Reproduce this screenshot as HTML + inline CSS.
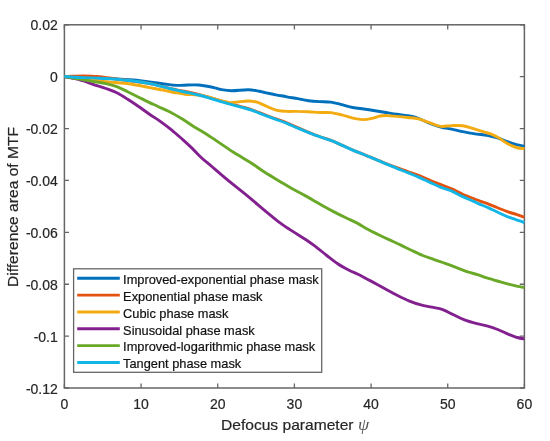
<!DOCTYPE html>
<html><head><meta charset="utf-8"><style>html,body{margin:0;padding:0;background:#fff;width:550px;height:441px;overflow:hidden}svg{display:block}</style></head>
<body><svg width="550" height="441" viewBox="0 0 550 441"><rect x="64.4" y="24.8" width="460.0" height="363.2" fill="#fff" stroke="none"/>
<path d="M64.40,388.0 v-4.6 M64.40,24.8 v4.6 M141.07,388.0 v-4.6 M141.07,24.8 v4.6 M217.73,388.0 v-4.6 M217.73,24.8 v4.6 M294.40,388.0 v-4.6 M294.40,24.8 v4.6 M371.07,388.0 v-4.6 M371.07,24.8 v4.6 M447.73,388.0 v-4.6 M447.73,24.8 v4.6 M524.40,388.0 v-4.6 M524.40,24.8 v4.6 M64.4,24.80 h4.6 M524.4,24.80 h-4.6 M64.4,76.69 h4.6 M524.4,76.69 h-4.6 M64.4,128.57 h4.6 M524.4,128.57 h-4.6 M64.4,180.46 h4.6 M524.4,180.46 h-4.6 M64.4,232.34 h4.6 M524.4,232.34 h-4.6 M64.4,284.23 h4.6 M524.4,284.23 h-4.6 M64.4,336.11 h4.6 M524.4,336.11 h-4.6 M64.4,388.00 h4.6 M524.4,388.00 h-4.6" stroke="#666666" stroke-width="1.3" fill="none"/>
<rect x="64.4" y="24.8" width="460.0" height="363.2" fill="none" stroke="#666666" stroke-width="1.5"/>
<g fill="none" stroke-width="2.9" stroke-linejoin="round" stroke-linecap="butt">
<path d="M64.4,76.5 C67.0,76.7 74.1,77.1 80.0,77.4 C85.9,77.7 94.2,77.9 100.0,78.1 C105.8,78.3 110.0,78.5 115.0,78.8 C120.0,79.1 125.2,79.4 130.0,79.8 C134.8,80.2 139.4,80.7 143.6,81.2 C147.8,81.7 151.3,82.1 155.0,82.6 C158.7,83.1 162.3,83.7 165.9,84.2 C169.5,84.7 173.2,85.3 176.8,85.4 C180.4,85.5 184.1,85.1 187.7,85.0 C191.3,84.9 195.3,84.8 198.6,85.0 C201.9,85.2 204.6,85.7 207.3,86.2 C210.0,86.7 212.7,87.3 215.0,87.9 C217.3,88.4 218.1,89.0 220.9,89.5 C223.7,90.0 227.2,90.7 231.8,90.7 C236.4,90.7 243.6,89.6 248.2,89.7 C252.8,89.8 256.3,90.7 259.1,91.2 C261.9,91.7 262.2,92.0 265.0,92.6 C267.8,93.2 272.3,94.1 275.9,94.8 C279.5,95.5 283.2,96.1 286.8,96.8 C290.4,97.5 294.1,98.0 297.7,98.7 C301.3,99.4 305.0,100.2 308.6,100.7 C312.2,101.2 315.8,101.4 319.5,101.6 C323.2,101.8 327.2,101.6 330.9,102.1 C334.6,102.6 338.2,103.7 341.8,104.6 C345.4,105.5 349.1,106.8 352.7,107.5 C356.3,108.2 359.9,108.5 363.6,109.0 C367.3,109.5 371.3,110.1 375.0,110.7 C378.7,111.3 382.3,111.9 385.9,112.5 C389.5,113.1 393.2,113.8 396.8,114.3 C400.4,114.8 404.4,115.2 407.7,115.7 C411.0,116.2 413.0,116.3 416.4,117.5 C419.8,118.7 423.9,121.0 428.0,122.6 C432.1,124.2 436.9,126.0 440.9,127.1 C444.9,128.2 448.2,128.4 451.8,129.2 C455.4,130.0 459.1,131.0 462.7,131.7 C466.3,132.4 470.0,133.1 473.6,133.6 C477.2,134.2 481.6,134.6 484.5,135.0 C487.4,135.4 488.7,135.8 491.0,136.3 C493.3,136.8 495.5,137.2 498.2,138.1 C500.9,139.0 504.3,140.5 507.3,141.6 C510.3,142.7 513.5,143.9 516.4,144.7 C519.2,145.5 523.1,146.1 524.4,146.4" stroke="#0070bd"/>
<path d="M64.4,76.5 C65.7,76.5 68.8,76.3 72.0,76.2 C75.2,76.1 80.0,75.9 83.8,75.9 C87.6,75.9 92.0,76.2 95.0,76.4 C98.0,76.6 97.5,76.4 102.0,77.0 C106.5,77.6 114.9,78.9 121.8,79.8 C128.7,80.7 138.1,81.7 143.6,82.5 C149.1,83.3 151.3,83.9 155.0,84.7 C158.7,85.5 162.3,86.5 165.9,87.4 C169.5,88.3 173.2,89.1 176.8,89.9 C180.4,90.6 184.1,91.2 187.7,91.9 C191.3,92.6 195.0,93.4 198.6,94.3 C202.2,95.2 205.8,96.2 209.5,97.3 C213.2,98.4 217.2,99.9 220.9,101.0 C224.6,102.1 228.2,103.1 231.8,104.1 C235.4,105.1 239.4,106.2 242.7,107.1 C246.0,108.0 247.7,108.3 251.4,109.6 C255.1,110.9 260.9,113.3 265.0,114.9 C269.1,116.4 272.3,117.6 275.9,118.9 C279.5,120.2 283.2,121.3 286.8,122.8 C290.4,124.3 294.1,126.1 297.7,127.7 C301.3,129.3 305.0,130.8 308.6,132.3 C312.2,133.8 315.8,135.2 319.5,136.5 C323.2,137.8 327.2,138.9 330.9,140.3 C334.6,141.7 338.2,143.5 341.8,145.1 C345.4,146.7 349.1,148.4 352.7,150.0 C356.3,151.6 360.0,152.9 363.6,154.4 C367.2,155.9 370.8,157.3 374.5,158.8 C378.2,160.3 382.2,162.1 385.9,163.6 C389.6,165.1 393.2,166.4 396.8,167.7 C400.4,169.0 404.1,170.2 407.7,171.5 C411.3,172.8 415.0,173.9 418.6,175.3 C422.2,176.7 425.8,178.6 429.5,180.1 C433.2,181.7 437.2,183.1 440.9,184.6 C444.6,186.1 448.2,187.3 451.8,188.9 C455.4,190.5 459.1,192.7 462.7,194.3 C466.3,195.9 470.7,197.5 473.6,198.6 C476.5,199.7 477.4,200.1 480.0,201.1 C482.6,202.1 486.1,203.2 489.1,204.4 C492.1,205.6 495.2,206.8 498.2,208.0 C501.2,209.2 504.3,210.5 507.3,211.6 C510.3,212.7 513.5,213.5 516.4,214.4 C519.2,215.3 523.1,216.7 524.4,217.1" stroke="#e4520f"/>
<path d="M64.4,76.5 C66.2,76.7 70.7,77.4 75.0,77.9 C79.3,78.4 85.8,79.2 90.0,79.7 C94.2,80.2 96.7,80.7 100.0,81.1 C103.3,81.5 105.9,81.7 110.0,82.1 C114.1,82.5 119.7,82.7 124.5,83.3 C129.3,83.9 134.8,84.8 139.1,85.5 C143.3,86.2 145.8,86.9 150.0,87.7 C154.2,88.5 160.0,89.5 164.5,90.4 C169.0,91.3 173.4,92.3 176.8,92.9 C180.2,93.5 182.5,93.9 185.0,94.2 C187.5,94.5 189.6,94.4 192.0,94.6 C194.4,94.8 197.0,94.8 199.5,95.2 C202.0,95.6 204.6,96.1 207.0,96.7 C209.4,97.3 211.6,98.0 214.1,98.7 C216.6,99.4 219.3,100.2 222.0,100.9 C224.7,101.5 227.3,102.4 230.0,102.6 C232.7,102.8 235.0,102.2 238.0,101.9 C241.0,101.6 245.0,101.0 248.2,101.0 C251.3,101.0 254.2,101.5 256.9,102.2 C259.6,102.9 262.3,104.4 264.5,105.3 C266.7,106.2 267.9,107.0 270.0,107.8 C272.1,108.6 274.2,109.7 277.0,110.3 C279.8,110.9 283.4,111.2 286.8,111.4 C290.2,111.6 294.1,111.3 297.7,111.4 C301.3,111.4 305.0,111.5 308.6,111.7 C312.2,111.9 315.8,112.3 319.5,112.5 C323.2,112.7 327.2,112.2 330.9,112.6 C334.6,113.0 338.2,114.0 341.8,114.9 C345.4,115.8 349.2,117.4 352.7,118.2 C356.2,119.0 359.7,119.6 363.0,119.6 C366.3,119.6 369.5,118.9 372.3,118.3 C375.1,117.7 377.6,116.5 380.0,116.0 C382.4,115.5 384.2,115.5 387.0,115.6 C389.8,115.7 393.4,116.1 396.8,116.4 C400.2,116.7 404.1,117.1 407.7,117.5 C411.3,117.9 415.0,118.0 418.6,118.9 C422.2,119.8 425.8,121.5 429.5,122.7 C433.2,124.0 437.2,125.9 440.9,126.4 C444.6,126.9 448.2,125.7 451.8,125.6 C455.4,125.5 459.1,125.2 462.7,125.7 C466.3,126.2 470.0,127.6 473.6,128.7 C477.2,129.8 481.8,131.3 484.5,132.1 C487.2,132.9 487.7,132.8 490.0,133.7 C492.3,134.6 495.3,136.0 498.2,137.6 C501.1,139.2 504.3,141.8 507.3,143.5 C510.3,145.2 513.5,146.6 516.4,147.5 C519.2,148.4 523.1,148.5 524.4,148.7" stroke="#f3ab12"/>
<path d="M64.4,76.5 C66.2,76.9 71.4,77.8 75.0,78.7 C78.6,79.6 82.5,80.6 85.8,81.7 C89.1,82.8 91.7,84.0 95.0,85.1 C98.3,86.2 102.3,87.2 105.9,88.5 C109.5,89.8 113.2,91.0 116.8,92.8 C120.4,94.6 124.1,97.0 127.7,99.3 C131.3,101.6 135.0,104.0 138.6,106.5 C142.2,109.0 145.8,111.7 149.5,114.2 C153.2,116.8 157.2,119.1 160.9,121.8 C164.6,124.5 168.2,127.1 171.8,130.1 C175.4,133.1 179.3,136.6 182.7,139.6 C186.1,142.6 189.0,145.2 192.0,148.1 C195.0,151.0 197.6,154.1 200.9,157.2 C204.2,160.3 208.1,163.3 211.8,166.5 C215.5,169.7 219.0,172.7 223.0,176.1 C227.0,179.5 231.9,183.5 235.9,186.7 C239.9,189.9 243.1,192.4 246.8,195.4 C250.5,198.4 254.0,201.5 258.0,204.9 C262.0,208.3 266.9,212.4 270.9,215.6 C274.9,218.8 278.2,221.5 281.8,224.1 C285.4,226.7 288.7,228.8 292.7,231.4 C296.7,234.0 302.1,237.1 306.0,239.7 C309.9,242.3 312.4,244.2 315.9,246.8 C319.4,249.4 323.2,252.7 326.8,255.5 C330.4,258.3 334.1,261.3 337.7,263.7 C341.3,266.1 345.2,268.2 348.6,270.0 C352.0,271.8 355.1,272.9 358.0,274.3 C360.9,275.7 362.8,276.8 365.9,278.4 C369.0,280.1 373.2,282.2 376.8,284.2 C380.4,286.2 384.1,288.2 387.7,290.2 C391.3,292.2 395.0,294.2 398.6,296.0 C402.2,297.8 405.8,299.6 409.5,301.1 C413.2,302.6 417.2,303.9 420.9,304.9 C424.6,305.9 428.2,306.4 431.8,307.2 C435.4,308.0 439.1,308.3 442.7,309.6 C446.3,310.9 450.0,313.1 453.6,314.8 C457.2,316.5 460.8,318.5 464.5,319.9 C468.2,321.3 472.2,322.4 475.9,323.4 C479.6,324.4 483.2,324.8 486.8,325.8 C490.4,326.8 494.1,328.1 497.7,329.5 C501.3,330.9 505.3,333.0 508.6,334.3 C511.9,335.6 514.7,336.7 517.3,337.5 C519.9,338.3 523.2,338.7 524.4,338.9" stroke="#83208f"/>
<path d="M64.4,76.5 C66.7,76.9 74.1,78.0 78.0,78.7 C81.9,79.4 85.2,80.0 88.0,80.5 C90.8,81.0 92.0,81.3 95.0,81.8 C98.0,82.3 102.3,82.8 105.9,83.6 C109.5,84.4 113.2,85.3 116.8,86.7 C120.4,88.1 124.1,90.0 127.7,91.7 C131.3,93.5 135.0,95.4 138.6,97.2 C142.2,99.0 146.3,101.0 149.5,102.6 C152.7,104.1 154.8,105.0 158.0,106.5 C161.2,108.0 164.4,109.2 168.5,111.3 C172.6,113.4 178.5,116.8 182.7,119.3 C186.9,121.8 190.2,124.4 193.6,126.5 C197.0,128.6 199.2,129.6 203.0,131.9 C206.8,134.2 211.1,137.2 216.2,140.6 C221.3,144.0 228.0,148.7 233.6,152.3 C239.2,155.9 245.2,159.2 250.0,162.2 C254.8,165.2 258.1,167.9 262.1,170.5 C266.1,173.1 270.6,175.8 274.1,177.9 C277.6,180.0 280.2,181.6 283.0,183.3 C285.8,185.0 287.8,186.2 290.9,187.9 C294.0,189.7 298.2,191.8 301.8,193.8 C305.4,195.8 309.1,197.8 312.7,199.9 C316.3,202.0 320.0,204.3 323.6,206.3 C327.2,208.3 330.8,210.2 334.5,212.1 C338.2,214.0 342.2,216.0 345.9,217.8 C349.6,219.6 353.2,221.0 356.8,222.9 C360.4,224.8 364.1,227.2 367.7,229.2 C371.3,231.2 375.0,232.9 378.6,234.7 C382.2,236.5 385.8,238.2 389.5,239.9 C393.2,241.6 397.2,243.3 400.9,245.1 C404.6,246.9 408.2,248.8 411.8,250.5 C415.4,252.2 419.1,254.0 422.7,255.5 C426.3,257.0 430.0,258.0 433.6,259.3 C437.2,260.6 440.8,261.8 444.5,263.1 C448.2,264.4 452.2,265.9 455.9,267.3 C459.6,268.7 463.2,270.4 466.8,271.6 C470.4,272.8 474.7,273.7 477.7,274.6 C480.7,275.6 482.4,276.4 485.0,277.3 C487.6,278.2 490.5,279.0 493.2,279.8 C495.9,280.6 498.7,281.4 501.4,282.2 C504.1,283.0 506.8,283.7 509.5,284.4 C512.2,285.1 515.2,285.8 517.7,286.3 C520.2,286.8 523.3,287.4 524.4,287.6" stroke="#6aa827"/>
<path d="M64.4,76.5 C66.2,76.6 71.8,77.0 75.0,77.2 C78.2,77.4 79.6,77.4 83.8,77.6 C88.0,77.8 95.6,78.0 100.0,78.2 C104.4,78.4 105.9,78.5 110.0,78.8 C114.1,79.1 119.7,79.6 124.5,80.1 C129.3,80.6 134.8,81.1 139.1,81.7 C143.3,82.3 145.8,82.7 150.0,83.6 C154.2,84.5 160.0,86.1 164.5,87.2 C169.0,88.3 172.9,89.3 176.8,90.2 C180.7,91.1 184.1,91.8 187.7,92.6 C191.3,93.4 195.0,94.1 198.6,95.0 C202.2,95.9 205.8,97.0 209.5,98.1 C213.2,99.2 217.2,100.6 220.9,101.7 C224.6,102.8 228.2,103.7 231.8,104.7 C235.4,105.7 239.4,106.7 242.7,107.6 C246.0,108.5 247.7,108.8 251.4,110.1 C255.1,111.4 260.9,113.8 265.0,115.3 C269.1,116.8 272.3,118.0 275.9,119.4 C279.5,120.7 283.2,121.9 286.8,123.4 C290.4,124.9 294.1,126.7 297.7,128.2 C301.3,129.7 305.0,131.2 308.6,132.6 C312.2,134.0 315.8,135.4 319.5,136.7 C323.2,138.0 327.2,139.0 330.9,140.4 C334.6,141.8 338.2,143.6 341.8,145.2 C345.4,146.8 349.1,148.6 352.7,150.1 C356.3,151.7 360.0,153.0 363.6,154.5 C367.2,156.0 370.8,157.3 374.5,158.9 C378.2,160.5 382.2,162.3 385.9,163.9 C389.6,165.5 393.2,166.8 396.8,168.3 C400.4,169.8 404.1,171.2 407.7,172.7 C411.3,174.2 415.0,175.5 418.6,177.1 C422.2,178.7 425.8,180.4 429.5,182.1 C433.2,183.8 437.2,185.8 440.9,187.3 C444.6,188.8 448.2,189.7 451.8,191.2 C455.4,192.8 459.1,194.9 462.7,196.6 C466.3,198.3 470.7,200.1 473.6,201.4 C476.5,202.7 477.4,203.2 480.0,204.3 C482.6,205.4 486.1,206.7 489.1,208.1 C492.1,209.5 495.2,211.1 498.2,212.5 C501.2,213.9 504.3,215.4 507.3,216.6 C510.3,217.8 513.5,218.8 516.4,219.8 C519.2,220.8 523.1,222.1 524.4,222.6" stroke="#12b6e6"/>
</g>
<g font-family="Liberation Sans, Arial, sans-serif" font-size="14" fill="#262626" stroke="#262626" stroke-width="0.2"><text x="64.40" y="409" text-anchor="middle">0</text><text x="141.07" y="409" text-anchor="middle">10</text><text x="217.73" y="409" text-anchor="middle">20</text><text x="294.40" y="409" text-anchor="middle">30</text><text x="371.07" y="409" text-anchor="middle">40</text><text x="447.73" y="409" text-anchor="middle">50</text><text x="524.40" y="409" text-anchor="middle">60</text><text x="57.8" y="30.10" text-anchor="end">0.02</text><text x="57.8" y="82.00" text-anchor="end">0</text><text x="57.8" y="134.30" text-anchor="end">-0.02</text><text x="57.8" y="185.90" text-anchor="end">-0.04</text><text x="57.8" y="238.30" text-anchor="end">-0.06</text><text x="57.8" y="290.00" text-anchor="end">-0.08</text><text x="57.8" y="342.40" text-anchor="end">-0.1</text><text x="57.8" y="393.85" text-anchor="end">-0.12</text></g>
<text transform="translate(0,430.3) scale(1,0.95)" x="221" y="0" font-family="Liberation Sans, Arial, sans-serif" font-size="15.6" fill="#262626" stroke="#262626" stroke-width="0.2">Defocus parameter <tspan font-family="Liberation Serif, serif" font-style="italic" font-size="18" fill="#555" stroke="none">ψ</tspan></text>
<text transform="translate(17.6,207) rotate(-90) scale(1,0.95)" text-anchor="middle" font-family="Liberation Sans, Arial, sans-serif" font-size="15.6" fill="#262626" stroke="#262626" stroke-width="0.2">Difference area of MTF</text>
<rect x="73.6" y="268.8" width="248.1" height="103.5" fill="#fff" stroke="#666666" stroke-width="1.3"/>
<path d="M77.2,278.30 H119.8" stroke="#0070bd" stroke-width="2.9"/>
<text x="123.1" y="284.00" font-family="Liberation Sans, Arial, sans-serif" font-size="12.8" fill="#111" stroke="#111" stroke-width="0.2">Improved-exponential phase mask</text>
<path d="M77.2,295.14 H119.8" stroke="#e4520f" stroke-width="2.9"/>
<text x="123.1" y="300.84" font-family="Liberation Sans, Arial, sans-serif" font-size="12.8" fill="#111" stroke="#111" stroke-width="0.2">Exponential phase mask</text>
<path d="M77.2,311.98 H119.8" stroke="#f3ab12" stroke-width="2.9"/>
<text x="123.1" y="317.68" font-family="Liberation Sans, Arial, sans-serif" font-size="12.8" fill="#111" stroke="#111" stroke-width="0.2">Cubic phase mask</text>
<path d="M77.2,328.82 H119.8" stroke="#83208f" stroke-width="2.9"/>
<text x="123.1" y="334.52" font-family="Liberation Sans, Arial, sans-serif" font-size="12.8" fill="#111" stroke="#111" stroke-width="0.2">Sinusoidal phase mask</text>
<path d="M77.2,345.66 H119.8" stroke="#6aa827" stroke-width="2.9"/>
<text x="123.1" y="351.36" font-family="Liberation Sans, Arial, sans-serif" font-size="12.8" fill="#111" stroke="#111" stroke-width="0.2">Improved-logarithmic phase mask</text>
<path d="M77.2,362.50 H119.8" stroke="#12b6e6" stroke-width="2.9"/>
<text x="123.1" y="368.20" font-family="Liberation Sans, Arial, sans-serif" font-size="12.8" fill="#111" stroke="#111" stroke-width="0.2">Tangent phase mask</text></svg></body></html>
